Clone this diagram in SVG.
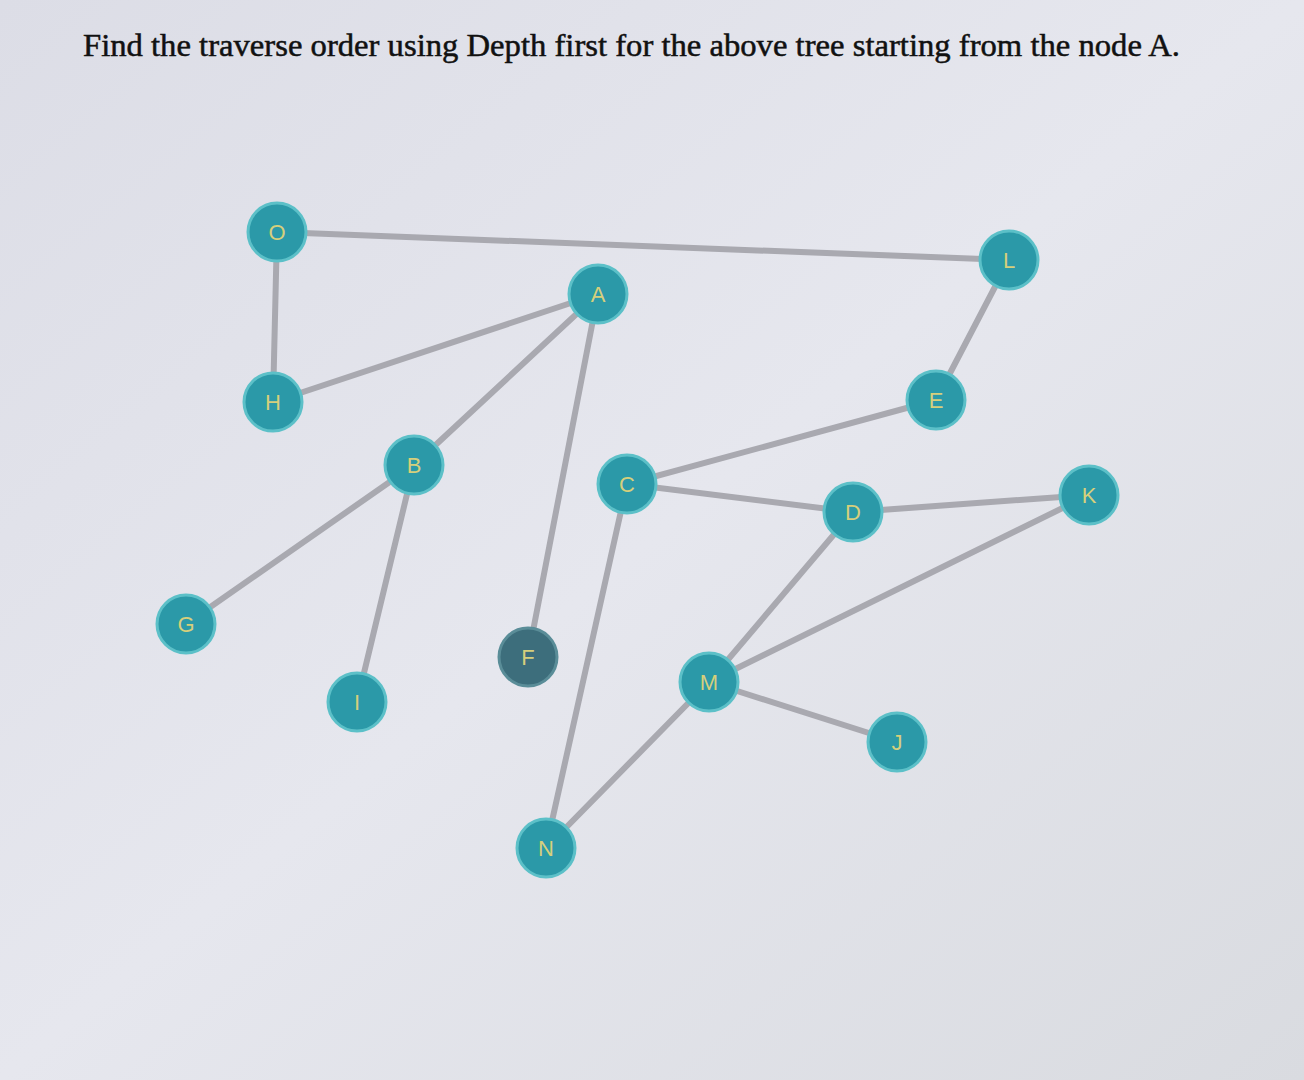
<svg xmlns="http://www.w3.org/2000/svg" width="1304" height="1080" viewBox="0 0 1304 1080">
<defs>
<linearGradient id="bg" x1="0" y1="0" x2="1" y2="1">
<stop offset="0" stop-color="#dcdde6"/><stop offset="0.5" stop-color="#e6e7ee"/><stop offset="1" stop-color="#d9dbe0"/>
</linearGradient>
<style>
.e{stroke:#a9a9b0;stroke-width:6;stroke-linecap:round}
.n{fill:#2b99a8;stroke:#5cc0c8;stroke-width:3}
.f{fill:#3d6e7c;stroke:#5a8d98;stroke-width:3}
.t{font-family:"Liberation Sans",Arial,sans-serif;font-size:22px;fill:#d6cf7c;text-anchor:middle;dominant-baseline:central}
.title{font-family:"Liberation Serif","Times New Roman",serif;font-size:31px;fill:#111;stroke:#111;stroke-width:0.5}
</style>
</defs>
<rect width="1304" height="1080" fill="url(#bg)"/>
<text class="title" x="83" y="56" textLength="1097" lengthAdjust="spacingAndGlyphs">Find the traverse order using Depth first for the above tree starting from the node A.</text>
<g id="connectors">
<line class="e" x1="277" y1="232" x2="1009" y2="260"/>
<line class="e" x1="277" y1="232" x2="273" y2="402"/>
<line class="e" x1="273" y1="402" x2="598" y2="294"/>
<line class="e" x1="598" y1="294" x2="414" y2="465"/>
<line class="e" x1="598" y1="294" x2="528" y2="657"/>
<line class="e" x1="414" y1="465" x2="186" y2="624"/>
<line class="e" x1="414" y1="465" x2="357" y2="702"/>
<line class="e" x1="627" y1="484" x2="936" y2="400"/>
<line class="e" x1="936" y1="400" x2="1009" y2="260"/>
<line class="e" x1="627" y1="484" x2="853" y2="512"/>
<line class="e" x1="627" y1="484" x2="546" y2="848"/>
<line class="e" x1="853" y1="512" x2="1089" y2="495"/>
<line class="e" x1="853" y1="512" x2="709" y2="682"/>
<line class="e" x1="709" y1="682" x2="1089" y2="495"/>
<line class="e" x1="709" y1="682" x2="897" y2="742"/>
<line class="e" x1="709" y1="682" x2="546" y2="848"/>
</g>
<g id="O"><circle class="n" cx="277" cy="232" r="29"/><text class="t" x="277" y="232">O</text></g>
<g id="L"><circle class="n" cx="1009" cy="260" r="29"/><text class="t" x="1009" y="260">L</text></g>
<g id="A"><circle class="n" cx="598" cy="294" r="29"/><text class="t" x="598" y="294">A</text></g>
<g id="H"><circle class="n" cx="273" cy="402" r="29"/><text class="t" x="273" y="402">H</text></g>
<g id="E"><circle class="n" cx="936" cy="400" r="29"/><text class="t" x="936" y="400">E</text></g>
<g id="B"><circle class="n" cx="414" cy="465" r="29"/><text class="t" x="414" y="465">B</text></g>
<g id="C"><circle class="n" cx="627" cy="484" r="29"/><text class="t" x="627" y="484">C</text></g>
<g id="D"><circle class="n" cx="853" cy="512" r="29"/><text class="t" x="853" y="512">D</text></g>
<g id="K"><circle class="n" cx="1089" cy="495" r="29"/><text class="t" x="1089" y="495">K</text></g>
<g id="G"><circle class="n" cx="186" cy="624" r="29"/><text class="t" x="186" y="624">G</text></g>
<g id="F"><circle class="f" cx="528" cy="657" r="29"/><text class="t" x="528" y="657">F</text></g>
<g id="M"><circle class="n" cx="709" cy="682" r="29"/><text class="t" x="709" y="682">M</text></g>
<g id="I"><circle class="n" cx="357" cy="702" r="29"/><text class="t" x="357" y="702">I</text></g>
<g id="J"><circle class="n" cx="897" cy="742" r="29"/><text class="t" x="897" y="742">J</text></g>
<g id="N"><circle class="n" cx="546" cy="848" r="29"/><text class="t" x="546" y="848">N</text></g>
</svg>
